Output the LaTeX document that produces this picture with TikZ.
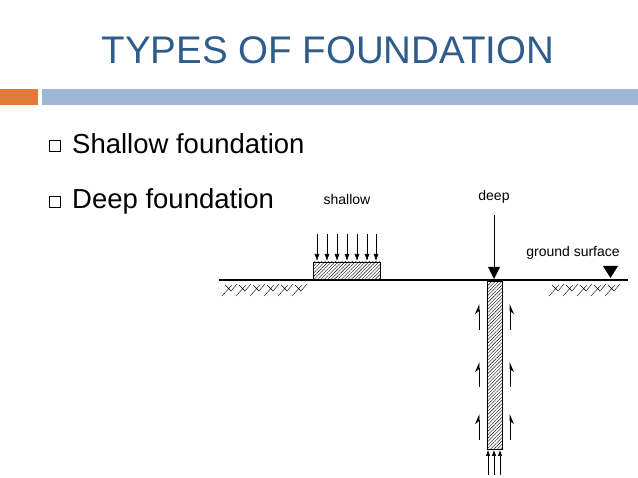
\documentclass[tikz,border=0pt]{standalone}
\usepackage{fontspec}
\setmainfont{Liberation Sans}
\usetikzlibrary{arrows.meta,patterns.meta}
\definecolor{ttl}{HTML}{2E5D8C}
\definecolor{org}{HTML}{E07B3C}
\definecolor{blu}{HTML}{9DB7D5}
\begin{document}
\begin{tikzpicture}[x=1pt,y=-1pt,
  hatch/.style={draw=black,pattern={Lines[angle=45,distance=2.4pt,line width=0.4pt]}},
  load/.style={-{Latex[length=7pt,width=5pt]},line width=0.6pt},
  hl/.style={-{Stealth[left,length=9pt,width=8pt]},line width=0.9pt},
  hr/.style={-{Stealth[right,length=9pt,width=8pt]},line width=0.9pt},
  lbl/.style={font=\fontsize{14}{16}\selectfont,inner sep=0pt},
  bul/.style={draw,line width=0.7pt,minimum size=11pt,inner sep=0pt},
  btxt/.style={font=\fontsize{27.5}{32}\selectfont,anchor=west,inner sep=0pt}]
\useasboundingbox (0,0) rectangle (638,478);
\node[text=ttl,font=\fontsize{38.5}{44}\selectfont] (title) at (328,50) {TYPES OF FOUNDATION};
\fill[org] (0,89) rectangle (38,105);
\fill[blu] (42,89) rectangle (638,105);
\node[bul] (b1) at (55,146) {};
\node[btxt] (t1) at (72,144) {Shallow foundation};
\node[bul] (b2) at (55,202) {};
\node[btxt] (t2) at (72,201) {Deep foundation};
% ground
\draw[line width=1.3pt] (219,280) -- (628,280);
\foreach \x in {222,236,250,264,278,292} {\draw[line width=0.4pt] (\x,296) -- (\x+10,285) (\x+3,285) -- (\x+9,291) -- (\x+15,284);}
\foreach \x in {549,563,577,591,605} {\draw[line width=0.4pt] (\x,296) -- (\x+10,285) (\x+3,285) -- (\x+9,291) -- (\x+15,284);}
% shallow
\node[lbl] (sh) at (347,199) {shallow};
\draw[hatch] (313,262) rectangle (380,280);
\foreach \x in {317,327,337,347,357,367,376} {\draw[load] (\x,234) -- (\x,261);}
% deep
\node[lbl] (dp) at (494,197) {deep};
\draw[hatch] (487,281) rectangle (502,449);
\draw[line width=0.6pt] (494,215) -- (494,268);
\fill (488,267) -- (500,267) -- (494,279) -- cycle;
\foreach \x in {488,494,500} {\draw[-{Latex[length=6pt,width=4.5pt]},line width=0.6pt] (\x,475) -- (\x,450);}
\foreach \ya/\yb in {330/304,387/362,440/414} {
  \draw[hl] (479,\ya) -- (479,\yb);
  \draw[hr] (510,\ya) -- (510,\yb);}
% ground surface
\node[lbl] (gs) at (573,253) {ground surface};
\fill (603,266) -- (618,266) -- (610.5,278) -- cycle;
\end{tikzpicture}
\end{document}
